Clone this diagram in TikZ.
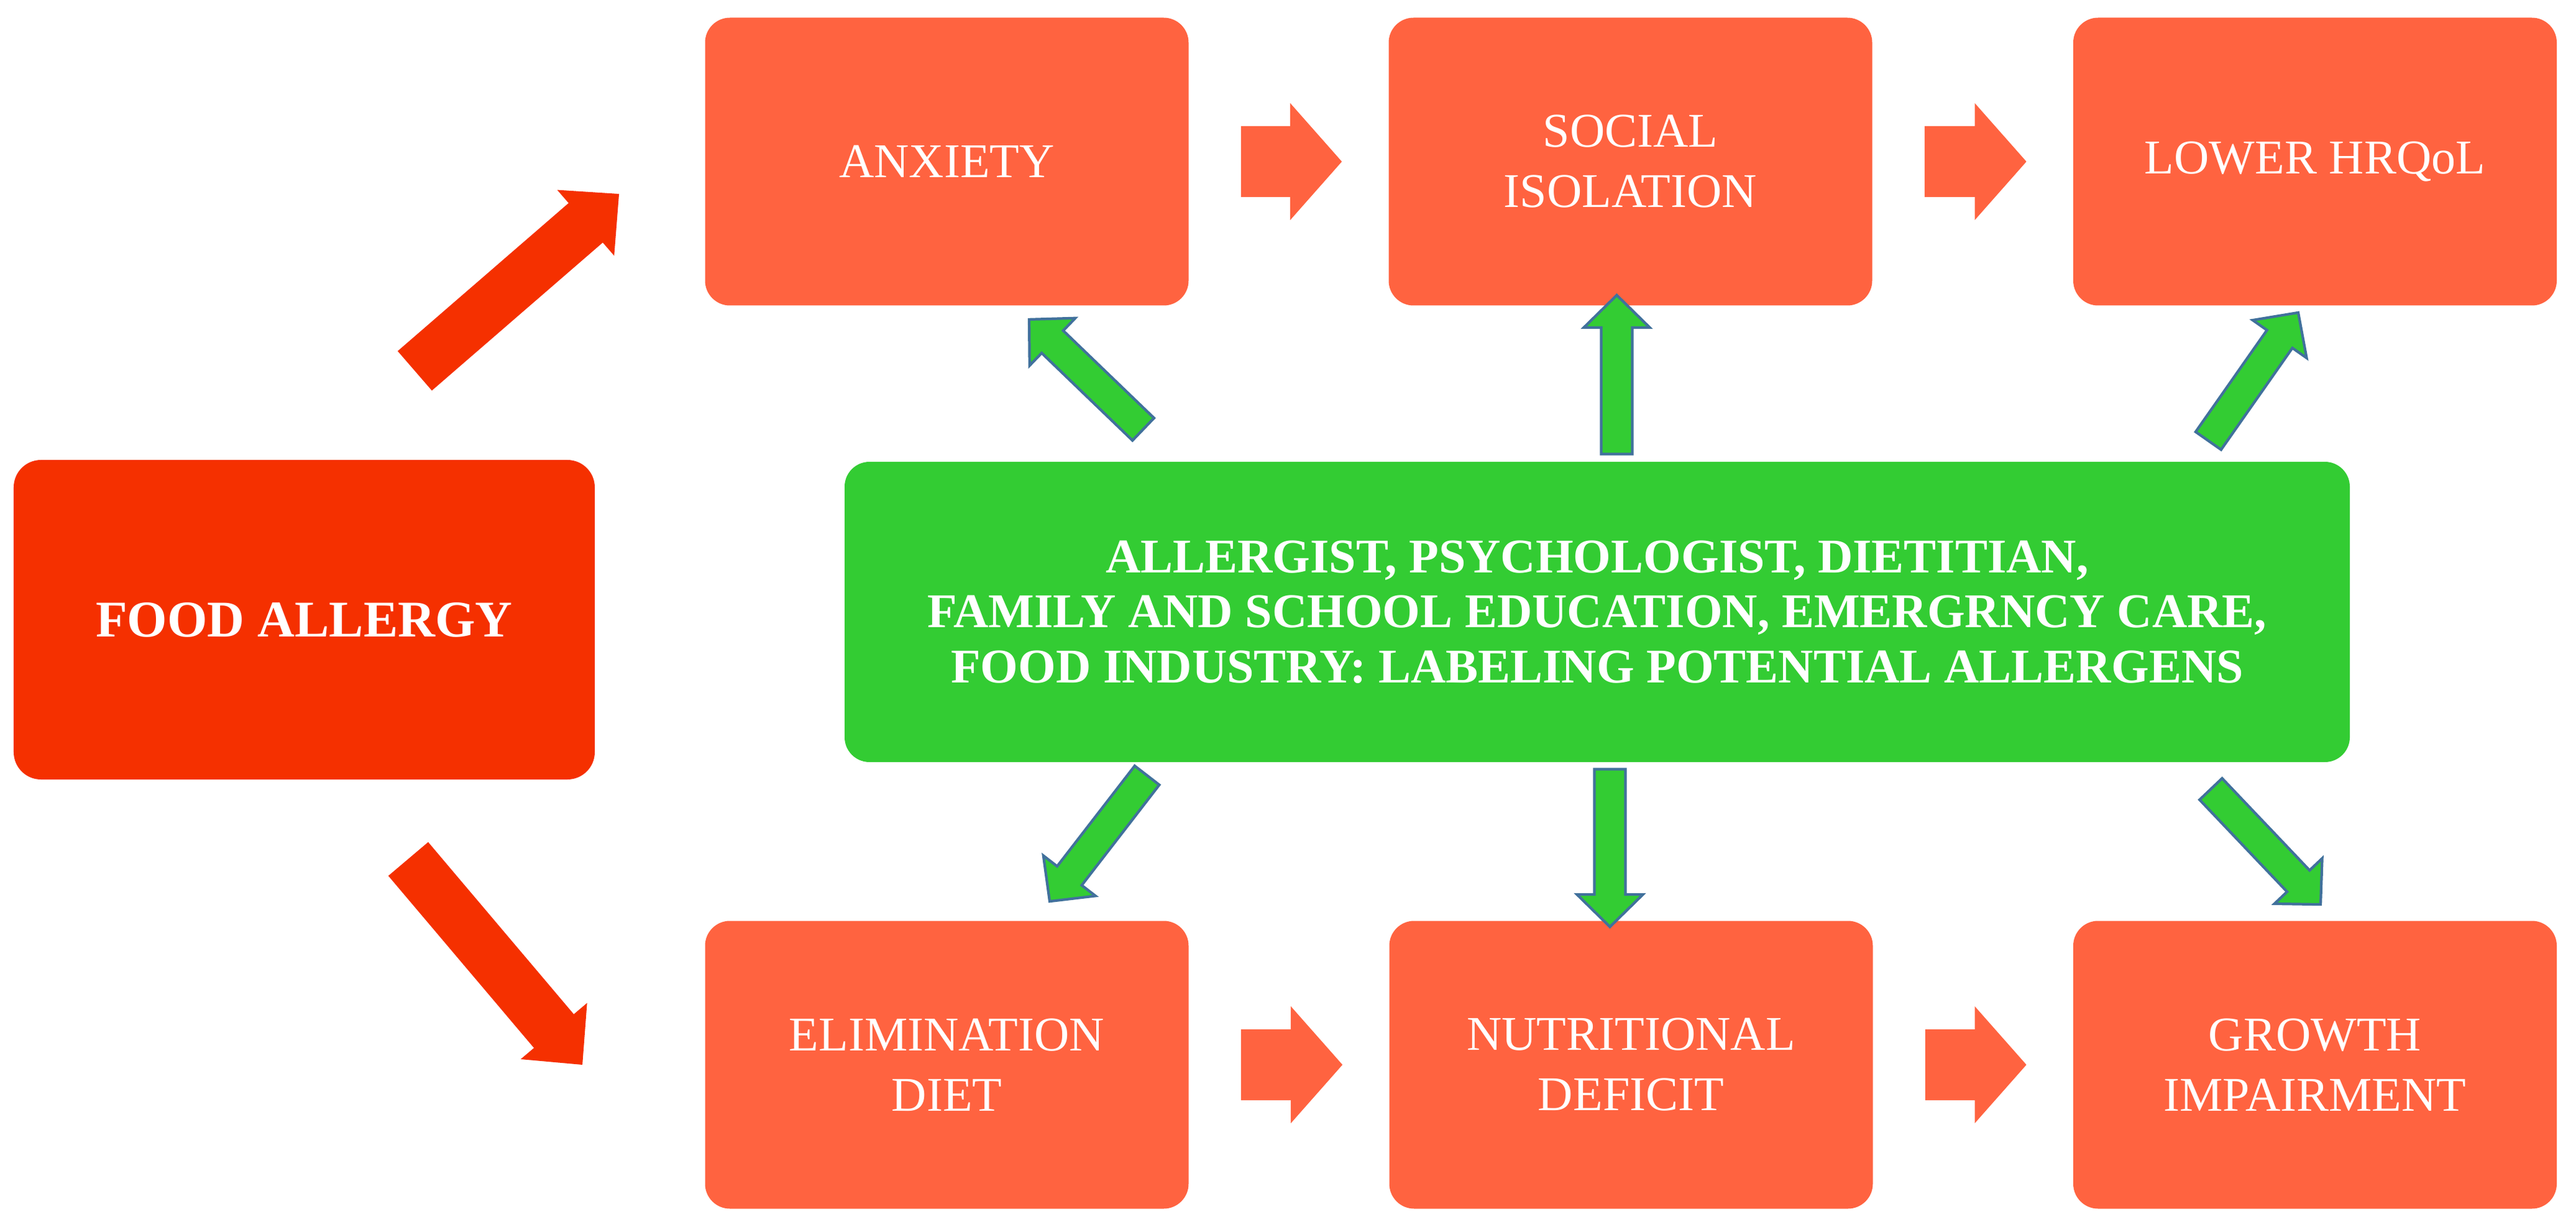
\documentclass[tikz,border=0pt]{standalone}
\usepackage{fontspec}
\setmainfont{Liberation Serif}
\usepackage{tikz}
\usetikzlibrary{positioning}
\usetikzlibrary{calc}
\definecolor{allergyred}{HTML}{F53000}
\definecolor{effectorange}{HTML}{FF6340}
\definecolor{caregreen}{HTML}{33CC33}
\definecolor{outlineblue}{HTML}{41719C}

\begin{document}
\begin{tikzpicture}[
							redbox/.style={rectangle, rounded corners=0.22cm, fill=allergyred, text=white, inner sep=0pt, minimum width=4.675cm, minimum height=2.57cm, font=\fontsize{11.8}{14}\selectfont\bfseries},
							orangebox/.style={rectangle, rounded corners=0.2cm, fill=effectorange, text=white, inner sep=0pt, align=center, minimum width=3.89cm, minimum height=2.315cm, font=\fontsize{11.1}{13.8}\selectfont},
							greenbox/.style={rectangle, rounded corners=0.2cm, fill=caregreen, text=white, inner sep=0pt, align=center, minimum width=12.11cm, minimum height=2.415cm, font=\fontsize{11.1}{12.6}\selectfont\bfseries},
							fatarrow/.style n args={3}{to path={let \p1=($(\tikztotarget)-(\tikztostart)$), \n1={atan2(\y1,\x1)} in
								($(\tikztostart)+({\n1+90}:#1)$) -- ($(\tikztotarget)+({\n1+180}:#3)+({\n1+90}:#1)$) -- ($(\tikztotarget)+({\n1+180}:#3)+({\n1+90}:#2)$) -- (\tikztotarget) -- ($(\tikztotarget)+({\n1+180}:#3)+({\n1-90}:#2)$) -- ($(\tikztotarget)+({\n1+180}:#3)+({\n1-90}:#1)$) -- ($(\tikztostart)+({\n1-90}:#1)$) -- cycle}},
							redarrow/.style={fatarrow={0.21cm}{0.35cm}{0.355cm}, fill=allergyred},
							orangearrow/.style={fatarrow={0.285cm}{0.47cm}{0.415cm}, fill=effectorange},
							greenarrow/.style={fatarrow={0.125cm}{0.265cm}{0.26cm}, fill=caregreen, draw=outlineblue, line width=0.6pt},
							]
							\path[fill=white, use as bounding box] (0,0) rectangle (20.725,9.865);
							%Nodes
							\node[redbox]         (allergy) 	at	(2.4475,4.88)		{FOOD ALLERGY};
							\node[orangebox]      (anxiety) 	at 	(7.6175,8.565)		{ANXIETY};
							\node[orangebox]      (social) 	at 	(13.1175,8.565)		{SOCIAL\\ISOLATION};
							\node[orangebox]      (hrqol) 	at 	(18.625,8.565)		{LOWER HRQoL};
							\node[orangebox]      (diet) 	at 	(7.6175,1.30)		{ELIMINATION\\DIET};
							\node[orangebox]      (deficit) 	at 	(13.1225,1.30)		{NUTRITIONAL\\DEFICIT};
							\node[orangebox]      (growth) 	at 	(18.625,1.30)		{GROWTH\\IMPAIRMENT};
							\node[greenbox]       (care) 	at 	(12.85,4.9425)		{ALLERGIST, PSYCHOLOGIST, DIETITIAN,\\FAMILY AND SCHOOL EDUCATION, EMERGRNCY CARE,\\FOOD INDUSTRY: LABELING POTENTIAL ALLERGENS};
							
							%Arrow ends
							\coordinate (r1a) at ([shift={(-1.455,0.71)}]allergy.north east);
							\coordinate (r1b) at ([shift={(-0.685,-0.26)}]anxiety.west);
							\coordinate (r2a) at ([shift={(-1.5075,-0.6325)}]allergy.south east);
							\coordinate (r2b) at ([shift={(-0.98,0)}]diet.west);
							
							\coordinate (o1a) at ([xshift=0.415cm]anxiety.east);
							\coordinate (o1b) at ([xshift=-0.37cm]social.west);
							\coordinate (o2a) at ([xshift=0.415cm]social.east);
							\coordinate (o2b) at ([xshift=-0.37cm]hrqol.west);
							\coordinate (o3a) at ([xshift=0.415cm]diet.east);
							\coordinate (o3b) at ([xshift=-0.37cm]deficit.west);
							\coordinate (o4a) at ([xshift=0.415cm]deficit.east);
							\coordinate (o4b) at ([xshift=-0.37cm]growth.west);
							
							\coordinate (g1a) at ([shift={(2.41,0.255)}]care.north west);
							\coordinate (g1b) at ([shift={(0.6625,-0.105)}]anxiety.south);
							\coordinate (g2a) at ([shift={(0.1575,0.055)}]care.north);
							\coordinate (g2b) at ([shift={(-0.11,0.09)}]social.south);
							\coordinate (g3a) at ([shift={(-1.145,0.1625)}]care.north east);
							\coordinate (g3b) at ([shift={(-0.135,-0.05)}]hrqol.south);
							\coordinate (g4a) at ([shift={(2.44,-0.1)}]care.south west);
							\coordinate (g4b) at ([shift={(0.8275,0.15)}]diet.north);
							\coordinate (g5a) at ([shift={(0.1025,-0.05)}]care.south);
							\coordinate (g5b) at ([shift={(-0.17,-0.055)}]deficit.north);
							\coordinate (g6a) at ([shift={(-1.125,-0.21)}]care.south east);
							\coordinate (g6b) at ([shift={(0.045,0.125)}]growth.north);
							
							\fill[redarrow] (r1a) to (r1b);
							\fill[redarrow] (r2a) to (r2b);
							
							\fill[orangearrow] (o1a) to (o1b);
							\fill[orangearrow] (o2a) to (o2b);
							\fill[orangearrow] (o3a) to (o3b);
							\fill[orangearrow] (o4a) to (o4b);
							
							\draw[greenarrow] (g1a) to (g1b);
							\draw[greenarrow] (g2a) to (g2b);
							\draw[greenarrow] (g3a) to (g3b);
							\draw[greenarrow] (g4a) to (g4b);
							\draw[greenarrow] (g5a) to (g5b);
							\draw[greenarrow] (g6a) to (g6b);
						\end{tikzpicture}
\end{document}
